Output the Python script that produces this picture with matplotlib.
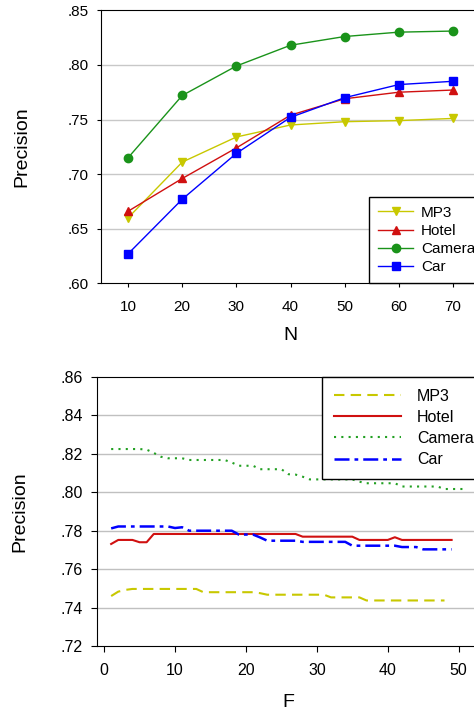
import matplotlib
matplotlib.use("Agg")
import matplotlib.pyplot as plt
from matplotlib.ticker import FuncFormatter

plt.rcParams['font.family'] = ['Liberation Sans', 'DejaVu Sans']

# top panel: precision vs N
n_values = [10, 20, 30, 40, 50, 60, 70]
mp3_n = [.660, .711, .734, .745, .748, .749, .751]
hotel_n = [.666, .696, .724, .754, .769, .775, .777]
camera_n = [.715, .772, .799, .818, .826, .830, .831]
car_n = [.627, .677, .719, .752, .770, .782, .785]

# bottom panel: precision vs F
mp3_f = [.7460, .7483, .7492, .7497, .7497, .7497, .7497, .7497, .7497, .7497,
         .7497, .7497, .7497, .7480, .7480, .7480, .7480, .7480, .7480, .7480,
         .7480, .7475, .7467, .7467, .7467, .7467, .7467, .7467, .7467, .7467,
         .7467, .7453, .7453, .7453, .7453, .7453, .7437, .7437, .7437, .7437,
         .7437, .7437, .7437, .7437, .7437, .7437, .7437, .7437]
hotel_f = [.7731, .7752, .7752, .7752, .7740, .7740, .7783, .7783, .7783, .7783,
           .7783, .7783, .7783, .7783, .7783, .7783, .7783, .7783, .7783, .7783,
           .7783, .7783, .7783, .7783, .7783, .7783, .7783, .7769, .7769, .7769,
           .7769, .7769, .7769, .7769, .7769, .7752, .7752, .7752, .7752, .7752,
           .7766, .7752, .7752, .7752, .7752, .7752, .7752, .7752, .7752]
camera_f = [.8225, .8225, .8225, .8225, .8225, .8222, .8205, .8185, .8177, .8177,
            .8177, .8168, .8168, .8168, .8168, .8168, .8168, .8155, .8138, .8138,
            .8138, .8120, .8120, .8120, .8120, .8094, .8092, .8081, .8067, .8067,
            .8067, .8067, .8067, .8067, .8067, .8055, .8047, .8047, .8047, .8047,
            .8047, .8030, .8030, .8030, .8030, .8030, .8030, .8017, .8017, .8017,
            .8017]
car_f = [.7812, .7822, .7822, .7822, .7822, .7822, .7822, .7822, .7822, .7814,
         .7818, .7800, .7800, .7800, .7800, .7800, .7800, .7800, .7780, .7780,
         .7780, .7765, .7748, .7748, .7748, .7748, .7748, .7742, .7742, .7742,
         .7742, .7742, .7742, .7742, .7722, .7722, .7722, .7722, .7722, .7722,
         .7722, .7715, .7715, .7715, .7703, .7703, .7703, .7703, .7703]

labels = ["MP3", "Hotel", "Camera", "Car"]
yellow, red, green, blue = "#c8c800", "#d01010", "#1a931a", "#0000ff"

fmt = FuncFormatter(lambda v, p: "{:.2f}".format(v).lstrip("0"))

fig = plt.figure(figsize=(4.74, 7.11), dpi=100)

# ---- top chart
ax1 = fig.add_axes([0.2131, 0.6015, 0.7996, 0.384])
for ys, c, m in zip([mp3_n, hotel_n, camera_n, car_n], [yellow, red, green, blue],
                    ["v", "^", "o", "s"]):
    ax1.plot(n_values, ys, color=c, marker=m, markersize=6, linewidth=1)
ax1.set_xlim(5, 75)
ax1.set_ylim(.60, .85)
ax1.set_xticks(n_values)
ax1.set_yticks([.60, .65, .70, .75, .80, .85])
ax1.yaxis.set_major_formatter(fmt)
for y in [.65, .70, .75, .80]:
    ax1.axhline(y, color="#c8c8c8", linewidth=1, zorder=0)
ax1.tick_params(labelsize=11, direction="out", length=3, pad=6)
ax1.tick_params(axis="x", pad=9)
ax1.set_ylabel("Precision", fontsize=14)
ax1.yaxis.set_label_coords(-0.187, 0.5)
ax1.set_xlabel("N", fontsize=14)
ax1.xaxis.set_label_coords(0.5, -0.161)
ax1.spines["right"].set_visible(False)
leg1 = ax1.legend(labels, loc="lower left", bbox_to_anchor=(0.707, 0.0),
                  fontsize=11, fancybox=False, edgecolor="black",
                  handlelength=2.3, labelspacing=0.27, borderpad=0.6,
                  handletextpad=0.5, borderaxespad=0, framealpha=1)
leg1.get_frame().set_linewidth(1)

# ---- bottom chart
ax2 = fig.add_axes([0.2046, 0.0914, 0.808, 0.3784])
ax2.plot(range(1, len(mp3_f) + 1), mp3_f, color=yellow, linestyle=(0, (5, 3)), linewidth=1.5)
ax2.plot(range(1, len(hotel_f) + 1), hotel_f, color=red, linestyle="-", linewidth=1.5)
ax2.plot(range(1, len(camera_f) + 1), camera_f, color="#22a022", linestyle=(0, (1, 2.5)), linewidth=1.5)
ax2.plot(range(1, len(car_f) + 1), car_f, color=blue, linestyle=(0, (6, 2, 1.5, 2)), linewidth=1.8)
ax2.set_xlim(-1, 53)
ax2.set_ylim(.72, .86)
ax2.set_xticks([0, 10, 20, 30, 40, 50])
ax2.set_yticks([.72, .74, .76, .78, .80, .82, .84, .86])
ax2.yaxis.set_major_formatter(fmt)
for y in [.74, .76, .78, .80, .82, .84]:
    ax2.axhline(y, color="#c0c0c0", linewidth=1, zorder=0)
ax2.tick_params(labelsize=11.5, direction="out", length=4, pad=6)
ax2.tick_params(axis="x", pad=8)
ax2.set_ylabel("Precision", fontsize=14)
ax2.yaxis.set_label_coords(-0.178, 0.5)
ax2.set_xlabel("F", fontsize=14)
ax2.xaxis.set_label_coords(0.5, -0.18)
ax2.spines["right"].set_visible(False)
leg2 = ax2.legend(labels, loc="upper left", bbox_to_anchor=(0.587, 1.0),
                  fontsize=11.5, fancybox=False, edgecolor="black",
                  handlelength=4.2, labelspacing=0.38, borderpad=0.75,
                  handletextpad=1.0, borderaxespad=0, framealpha=1)
leg2.get_frame().set_linewidth(1)

fig.savefig("out.png", dpi=100)
